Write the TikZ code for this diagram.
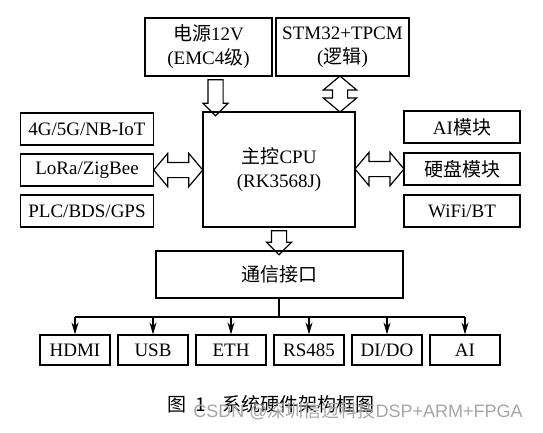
\documentclass[tikz,border=0pt]{standalone}
\usepackage{fontspec}
\setmainfont{Liberation Serif}
\newfontfamily\cjk{Noto Sans CJK SC}
\newfontfamily\wmfont{Liberation Sans}
\usetikzlibrary{shapes.arrows,arrows.meta,calc}
\definecolor{wmgray}{RGB}{165,165,165}

\tikzset{
	blk/.style={draw, line width=1.2pt, inner sep=0pt, align=center,
		font=\fontsize{19}{24}\selectfont},
	sidebox/.style={blk, minimum width=133pt, minimum height=32pt},
	iobox/.style={blk, minimum width=70pt, minimum height=30pt},
	fat/.style={single arrow, draw, line width=1.2pt, inner xsep=0pt, inner ysep=7pt,
		single arrow head extend=5pt, single arrow tip angle=90},
	fatboth/.style={double arrow, draw, line width=1.2pt, inner xsep=0pt, inner ysep=7pt,
		double arrow head extend=9pt, double arrow tip angle=100},
	wire/.style={line width=1.2pt}
}

\begin{document}
\begin{tikzpicture}[x=1pt, y=-1pt]
\useasboundingbox (0,0) rectangle (543,432);

% top row
\node[blk, minimum width=127pt, minimum height=58pt] (pwr) at (208.5,47)
	{{\cjk 电源}12V\\(EMC4{\cjk 级})};
\node[blk, minimum width=133pt, minimum height=58pt] (stm) at (342.5,47)
	{STM32+TPCM\\({\cjk 逻辑})};

% main processor
\node[blk, minimum width=152pt, minimum height=115pt] (cpu) at (279,169.5)
	{{\cjk 主控}CPU\\(RK3568J)};

% left column
\node[sidebox] (cell) at (87,129) {4G/5G/NB-IoT};
\node[sidebox] (lora) at (87,170) {LoRa/ZigBee};
\node[sidebox] (plc) at (87,211) {PLC/BDS/GPS};

% right column
\node[blk, minimum width=116pt, minimum height=32pt] (aimod) at (462,127) {AI{\cjk 模块}};
\node[blk, minimum width=116pt, minimum height=32pt] (disk) at (462,169) {{\cjk 硬盘模块}};
\node[blk, minimum width=116pt, minimum height=32pt] (wifi) at (462,211) {WiFi/BT};

% interface block
\node[blk, minimum width=247pt, minimum height=47pt] (comm) at (279.5,274.5) {{\cjk 通信接口}};

% io row
\node[iobox] (hdmi) at (75,350) {HDMI};
\node[iobox] (usb) at (153,350) {USB};
\node[iobox] (eth) at (231,350) {ETH};
\node[iobox] (rs) at (309,350) {RS485};
\node[iobox] (dido) at (387,350) {DI/DO};
\node[iobox] (ai) at (465,350) {AI};

% hollow arrows
\node[fat, rotate=-90, minimum height=36pt] (pwrarr)
	at ([xshift=7pt]$(pwr.south)!.5!(pwr.south|-cpu.north)$) {};
\node[fatboth, rotate=90, minimum height=36pt] (stmarr)
	at ([xshift=-2.5pt]$(stm.south)!.5!(stm.south|-cpu.north)$) {};
\node[fatboth, minimum height=49pt] (lorarr) at ($(lora.east)!.5!(cpu.west|-lora.east)$) {};
\node[fatboth, minimum height=49pt] (diskarr) at ($(cpu.east|-disk.west)!.5!(disk.west)$) {};
\node[fat, rotate=-90, minimum height=24pt] (cpuarr)
	at ($(cpu.south)!.5!(cpu.south|-comm.north)$) {};

% bus
\coordinate (bus) at (279,317);
\draw[wire] (comm.south-|bus) -- (bus);
\draw[wire] (hdmi.north|-bus) -- (ai.north|-bus);
\foreach \n in {hdmi,usb,eth,rs,dido,ai}
	\draw[wire, -{Stealth[length=12pt, width=7pt]}] (\n.north|-bus) -- (\n.north);

% caption
\node[font=\fontsize{19}{24}\selectfont\cjk] (cap) at (271,404) {图\hspace{9pt}1\hspace{16pt}系统硬件架构框图};
\node[font=\fontsize{18}{22}\selectfont\wmfont, text=wmgray] (wm) at (358,411)
	{CSDN @{\cjk 深圳信迈科技}DSP+ARM+FPGA};
\end{tikzpicture}
\end{document}
